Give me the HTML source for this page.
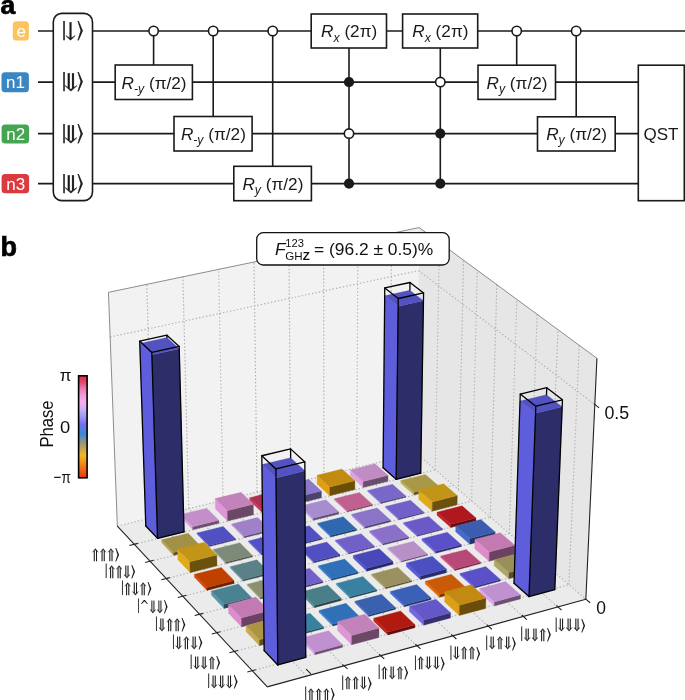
<!DOCTYPE html><html><head><meta charset="utf-8"><style>html,body{margin:0;padding:0;background:#fff;}svg{display:block}</style></head><body>
<svg width="685" height="700" viewBox="0 0 685 700">
<rect width="685" height="700" fill="#fff"/>
<g stroke="#1a1a1a" stroke-width="1.6" fill="none">
<line x1="38" y1="31.0" x2="685" y2="31.0"/>
<line x1="38" y1="82.1" x2="638.3" y2="82.1"/>
<line x1="38" y1="133.6" x2="638.3" y2="133.6"/>
<line x1="38" y1="183.6" x2="638.3" y2="183.6"/>
</g>
<rect x="12.8" y="21.2" width="16.1" height="19.4" rx="3.5" fill="#fcc45f"/>
<text x="21.2" y="36.9" font-family="'Liberation Sans', Arial, sans-serif" font-size="17" fill="#fff" text-anchor="middle">e</text>
<rect x="1.5" y="72.3" width="27.4" height="20.0" rx="3.5" fill="#3a86c2"/>
<text x="15.5" y="88.3" font-family="'Liberation Sans', Arial, sans-serif" font-size="17" fill="#fff" text-anchor="middle">n1</text>
<rect x="1.6" y="124.4" width="27.5" height="19.0" rx="3.5" fill="#45a550"/>
<text x="15.7" y="139.9" font-family="'Liberation Sans', Arial, sans-serif" font-size="17" fill="#fff" text-anchor="middle">n2</text>
<rect x="1.6" y="173.9" width="27.5" height="19.4" rx="3.5" fill="#da3b40"/>
<text x="15.7" y="189.6" font-family="'Liberation Sans', Arial, sans-serif" font-size="17" fill="#fff" text-anchor="middle">n3</text>
<rect x="53.3" y="13.4" width="39.2" height="187.2" rx="8.5" fill="#fff" stroke="#1a1a1a" stroke-width="1.6"/>
<text x="61.4" y="37.2" font-family="'DejaVu Math TeX Gyre', 'DejaVu Sans', sans-serif" font-size="22.7" fill="#1a1a1a" stroke="#1a1a1a" stroke-width="0.25" textLength="5.08" lengthAdjust="spacingAndGlyphs">|</text>
<text x="64.33" y="37.1" font-family="'DejaVu Math TeX Gyre', 'DejaVu Sans', sans-serif" font-size="21.5" fill="#1a1a1a" stroke="#1a1a1a" stroke-width="0.25" textLength="12.58" lengthAdjust="spacingAndGlyphs">↓</text>
<text x="76.85" y="37.2" font-family="'DejaVu Math TeX Gyre', 'DejaVu Sans', sans-serif" font-size="22.7" fill="#1a1a1a" stroke="#1a1a1a" stroke-width="0.3" textLength="7.40" lengthAdjust="spacingAndGlyphs">⟩</text>
<text x="61.4" y="88.3" font-family="'DejaVu Math TeX Gyre', 'DejaVu Sans', sans-serif" font-size="22.7" fill="#1a1a1a" stroke="#1a1a1a" stroke-width="0.25" textLength="5.08" lengthAdjust="spacingAndGlyphs">|</text>
<text x="63.31" y="88.2" font-family="'DejaVu Math TeX Gyre', 'DejaVu Sans', sans-serif" font-size="21.5" fill="#1a1a1a" stroke="#1a1a1a" stroke-width="0.25" textLength="15.33" lengthAdjust="spacingAndGlyphs">⇓</text>
<text x="76.85" y="88.3" font-family="'DejaVu Math TeX Gyre', 'DejaVu Sans', sans-serif" font-size="22.7" fill="#1a1a1a" stroke="#1a1a1a" stroke-width="0.3" textLength="7.40" lengthAdjust="spacingAndGlyphs">⟩</text>
<text x="61.4" y="139.8" font-family="'DejaVu Math TeX Gyre', 'DejaVu Sans', sans-serif" font-size="22.7" fill="#1a1a1a" stroke="#1a1a1a" stroke-width="0.25" textLength="5.08" lengthAdjust="spacingAndGlyphs">|</text>
<text x="63.31" y="139.7" font-family="'DejaVu Math TeX Gyre', 'DejaVu Sans', sans-serif" font-size="21.5" fill="#1a1a1a" stroke="#1a1a1a" stroke-width="0.25" textLength="15.33" lengthAdjust="spacingAndGlyphs">⇓</text>
<text x="76.85" y="139.8" font-family="'DejaVu Math TeX Gyre', 'DejaVu Sans', sans-serif" font-size="22.7" fill="#1a1a1a" stroke="#1a1a1a" stroke-width="0.3" textLength="7.40" lengthAdjust="spacingAndGlyphs">⟩</text>
<text x="61.4" y="189.8" font-family="'DejaVu Math TeX Gyre', 'DejaVu Sans', sans-serif" font-size="22.7" fill="#1a1a1a" stroke="#1a1a1a" stroke-width="0.25" textLength="5.08" lengthAdjust="spacingAndGlyphs">|</text>
<text x="63.31" y="189.7" font-family="'DejaVu Math TeX Gyre', 'DejaVu Sans', sans-serif" font-size="21.5" fill="#1a1a1a" stroke="#1a1a1a" stroke-width="0.25" textLength="15.33" lengthAdjust="spacingAndGlyphs">⇓</text>
<text x="76.85" y="189.8" font-family="'DejaVu Math TeX Gyre', 'DejaVu Sans', sans-serif" font-size="22.7" fill="#1a1a1a" stroke="#1a1a1a" stroke-width="0.3" textLength="7.40" lengthAdjust="spacingAndGlyphs">⟩</text>
<line x1="153.6" y1="31.0" x2="153.6" y2="65" stroke="#1a1a1a" stroke-width="1.6"/>
<line x1="213.2" y1="31.0" x2="213.2" y2="116.5" stroke="#1a1a1a" stroke-width="1.6"/>
<line x1="272.7" y1="31.0" x2="272.7" y2="166.3" stroke="#1a1a1a" stroke-width="1.6"/>
<line x1="516.7" y1="31.0" x2="516.7" y2="65.2" stroke="#1a1a1a" stroke-width="1.6"/>
<line x1="576.2" y1="31.0" x2="576.2" y2="116.8" stroke="#1a1a1a" stroke-width="1.6"/>
<line x1="349.0" y1="48" x2="349.0" y2="183.6" stroke="#1a1a1a" stroke-width="1.6"/>
<line x1="440.3" y1="48" x2="440.3" y2="183.6" stroke="#1a1a1a" stroke-width="1.6"/>
<rect x="115.2" y="65.0" width="77.2" height="34.5" fill="#fff" stroke="#1a1a1a" stroke-width="1.6"/>
<text x="154.1" y="88.5" font-family="'Liberation Sans', Arial, sans-serif" font-size="17.2" fill="#1a1a1a" text-anchor="middle"><tspan font-style="italic">R</tspan><tspan font-style="italic" font-size="12.2" dy="4.2">-y</tspan><tspan dy="-4.2"> (π/2)</tspan></text>
<rect x="174.0" y="116.5" width="78.1" height="34.5" fill="#fff" stroke="#1a1a1a" stroke-width="1.6"/>
<text x="213.4" y="140.1" font-family="'Liberation Sans', Arial, sans-serif" font-size="17.2" fill="#1a1a1a" text-anchor="middle"><tspan font-style="italic">R</tspan><tspan font-style="italic" font-size="12.2" dy="4.2">-y</tspan><tspan dy="-4.2"> (π/2)</tspan></text>
<rect x="233.8" y="166.3" width="77.6" height="34.4" fill="#fff" stroke="#1a1a1a" stroke-width="1.6"/>
<text x="272.9" y="189.8" font-family="'Liberation Sans', Arial, sans-serif" font-size="17.2" fill="#1a1a1a" text-anchor="middle"><tspan font-style="italic">R</tspan><tspan font-style="italic" font-size="12.2" dy="4.2">y</tspan><tspan dy="-4.2"> (π/2)</tspan></text>
<rect x="311.2" y="14.0" width="75.3" height="34.0" fill="#fff" stroke="#1a1a1a" stroke-width="1.6"/>
<text x="349.2" y="37.3" font-family="'Liberation Sans', Arial, sans-serif" font-size="17.2" fill="#1a1a1a" text-anchor="middle"><tspan font-style="italic">R</tspan><tspan font-style="italic" font-size="12.2" dy="4.2">x</tspan><tspan dy="-4.2"> (2π)</tspan></text>
<rect x="402.6" y="14.0" width="75.1" height="34.0" fill="#fff" stroke="#1a1a1a" stroke-width="1.6"/>
<text x="440.4" y="37.3" font-family="'Liberation Sans', Arial, sans-serif" font-size="17.2" fill="#1a1a1a" text-anchor="middle"><tspan font-style="italic">R</tspan><tspan font-style="italic" font-size="12.2" dy="4.2">x</tspan><tspan dy="-4.2"> (2π)</tspan></text>
<rect x="478.0" y="65.2" width="77.5" height="34.2" fill="#fff" stroke="#1a1a1a" stroke-width="1.6"/>
<text x="517.0" y="88.6" font-family="'Liberation Sans', Arial, sans-serif" font-size="17.2" fill="#1a1a1a" text-anchor="middle"><tspan font-style="italic">R</tspan><tspan font-style="italic" font-size="12.2" dy="4.2">y</tspan><tspan dy="-4.2"> (π/2)</tspan></text>
<rect x="537.5" y="116.8" width="77.7" height="34.2" fill="#fff" stroke="#1a1a1a" stroke-width="1.6"/>
<text x="576.6" y="140.2" font-family="'Liberation Sans', Arial, sans-serif" font-size="17.2" fill="#1a1a1a" text-anchor="middle"><tspan font-style="italic">R</tspan><tspan font-style="italic" font-size="12.2" dy="4.2">y</tspan><tspan dy="-4.2"> (π/2)</tspan></text>
<circle cx="153.6" cy="31.0" r="4.7" fill="#fff" stroke="#1a1a1a" stroke-width="1.6"/>
<circle cx="213.2" cy="31.0" r="4.7" fill="#fff" stroke="#1a1a1a" stroke-width="1.6"/>
<circle cx="272.7" cy="31.0" r="4.7" fill="#fff" stroke="#1a1a1a" stroke-width="1.6"/>
<circle cx="516.7" cy="31.0" r="4.7" fill="#fff" stroke="#1a1a1a" stroke-width="1.6"/>
<circle cx="576.2" cy="31.0" r="4.7" fill="#fff" stroke="#1a1a1a" stroke-width="1.6"/>
<circle cx="349.0" cy="82.1" r="5.1" fill="#1a1a1a" stroke="#1a1a1a" stroke-width="0"/>
<circle cx="349.0" cy="133.6" r="4.7" fill="#fff" stroke="#1a1a1a" stroke-width="1.6"/>
<circle cx="349.0" cy="183.6" r="5.1" fill="#1a1a1a" stroke="#1a1a1a" stroke-width="0"/>
<circle cx="440.3" cy="82.1" r="4.7" fill="#fff" stroke="#1a1a1a" stroke-width="1.6"/>
<circle cx="440.3" cy="133.6" r="5.1" fill="#1a1a1a" stroke="#1a1a1a" stroke-width="0"/>
<circle cx="440.3" cy="183.6" r="5.1" fill="#1a1a1a" stroke="#1a1a1a" stroke-width="0"/>
<rect x="638.3" y="65.2" width="46" height="135.5" fill="#fff" stroke="#1a1a1a" stroke-width="1.6"/>
<text x="661" y="139.5" font-family="'Liberation Sans', Arial, sans-serif" font-size="17" fill="#1a1a1a" text-anchor="middle">QST</text>
<text x="0.4" y="14.2" font-family="'Liberation Sans', Arial, sans-serif" font-size="26.5" font-weight="bold" fill="#000" stroke="#000" stroke-width="0.7">a</text>
<text x="0.6" y="255.5" font-family="'Liberation Sans', Arial, sans-serif" font-size="27" font-weight="bold" fill="#000" stroke="#000" stroke-width="0.7">b</text>
<polygon points="117.33,526.10 415.85,453.17 419.22,227.57 108.45,292.33" fill="#f2f2f2" stroke="none"/>
<polygon points="585.85,599.23 415.85,453.17 419.22,227.57 596.94,358.31" fill="#e6e6e6" stroke="none"/>
<polygon points="267.31,686.87 585.85,599.23 415.85,453.17 117.33,526.10" fill="#ebebeb" stroke="none"/>
<line x1="306.62" y1="676.05" x2="154.03" y2="517.13" stroke="#b0b0b0" stroke-width="1.15" stroke-dasharray="1.4,2.1" fill="none"/>
<line x1="154.03" y1="517.13" x2="146.72" y2="284.35" stroke="#b0b0b0" stroke-width="1.15" stroke-dasharray="1.4,2.1" fill="none"/>
<line x1="343.76" y1="665.84" x2="188.73" y2="508.65" stroke="#b0b0b0" stroke-width="1.15" stroke-dasharray="1.4,2.1" fill="none"/>
<line x1="188.73" y1="508.65" x2="182.89" y2="276.82" stroke="#b0b0b0" stroke-width="1.15" stroke-dasharray="1.4,2.1" fill="none"/>
<line x1="380.46" y1="655.74" x2="223.06" y2="500.27" stroke="#b0b0b0" stroke-width="1.15" stroke-dasharray="1.4,2.1" fill="none"/>
<line x1="223.06" y1="500.27" x2="218.66" y2="269.36" stroke="#b0b0b0" stroke-width="1.15" stroke-dasharray="1.4,2.1" fill="none"/>
<line x1="416.73" y1="645.76" x2="257.03" y2="491.97" stroke="#b0b0b0" stroke-width="1.15" stroke-dasharray="1.4,2.1" fill="none"/>
<line x1="257.03" y1="491.97" x2="254.03" y2="261.99" stroke="#b0b0b0" stroke-width="1.15" stroke-dasharray="1.4,2.1" fill="none"/>
<line x1="452.59" y1="635.89" x2="290.65" y2="483.75" stroke="#b0b0b0" stroke-width="1.15" stroke-dasharray="1.4,2.1" fill="none"/>
<line x1="290.65" y1="483.75" x2="289.02" y2="254.70" stroke="#b0b0b0" stroke-width="1.15" stroke-dasharray="1.4,2.1" fill="none"/>
<line x1="488.05" y1="626.14" x2="323.91" y2="475.63" stroke="#b0b0b0" stroke-width="1.15" stroke-dasharray="1.4,2.1" fill="none"/>
<line x1="323.91" y1="475.63" x2="323.64" y2="247.49" stroke="#b0b0b0" stroke-width="1.15" stroke-dasharray="1.4,2.1" fill="none"/>
<line x1="523.10" y1="616.49" x2="356.83" y2="467.59" stroke="#b0b0b0" stroke-width="1.15" stroke-dasharray="1.4,2.1" fill="none"/>
<line x1="356.83" y1="467.59" x2="357.87" y2="240.36" stroke="#b0b0b0" stroke-width="1.15" stroke-dasharray="1.4,2.1" fill="none"/>
<line x1="557.75" y1="606.96" x2="389.41" y2="459.63" stroke="#b0b0b0" stroke-width="1.15" stroke-dasharray="1.4,2.1" fill="none"/>
<line x1="389.41" y1="459.63" x2="391.74" y2="233.30" stroke="#b0b0b0" stroke-width="1.15" stroke-dasharray="1.4,2.1" fill="none"/>
<line x1="134.38" y1="544.37" x2="435.24" y2="469.83" stroke="#b0b0b0" stroke-width="1.15" stroke-dasharray="1.4,2.1" fill="none"/>
<line x1="435.24" y1="469.83" x2="439.43" y2="242.44" stroke="#b0b0b0" stroke-width="1.15" stroke-dasharray="1.4,2.1" fill="none"/>
<line x1="150.20" y1="561.33" x2="453.23" y2="485.29" stroke="#b0b0b0" stroke-width="1.15" stroke-dasharray="1.4,2.1" fill="none"/>
<line x1="458.37" y1="489.70" x2="463.55" y2="260.18" stroke="#b0b0b0" stroke-width="1.15" stroke-dasharray="1.4,2.1" fill="none"/>
<line x1="166.35" y1="578.64" x2="471.57" y2="501.05" stroke="#b0b0b0" stroke-width="1.15" stroke-dasharray="1.4,2.1" fill="none"/>
<line x1="471.57" y1="501.05" x2="477.33" y2="270.32" stroke="#b0b0b0" stroke-width="1.15" stroke-dasharray="1.4,2.1" fill="none"/>
<line x1="182.83" y1="596.31" x2="490.28" y2="517.11" stroke="#b0b0b0" stroke-width="1.15" stroke-dasharray="1.4,2.1" fill="none"/>
<line x1="490.28" y1="517.11" x2="496.87" y2="284.69" stroke="#b0b0b0" stroke-width="1.15" stroke-dasharray="1.4,2.1" fill="none"/>
<line x1="199.66" y1="614.35" x2="509.35" y2="533.50" stroke="#b0b0b0" stroke-width="1.15" stroke-dasharray="1.4,2.1" fill="none"/>
<line x1="509.35" y1="533.50" x2="516.81" y2="299.36" stroke="#b0b0b0" stroke-width="1.15" stroke-dasharray="1.4,2.1" fill="none"/>
<line x1="216.84" y1="632.77" x2="528.80" y2="550.22" stroke="#b0b0b0" stroke-width="1.15" stroke-dasharray="1.4,2.1" fill="none"/>
<line x1="528.80" y1="550.22" x2="537.16" y2="314.33" stroke="#b0b0b0" stroke-width="1.15" stroke-dasharray="1.4,2.1" fill="none"/>
<line x1="234.39" y1="651.58" x2="548.65" y2="567.27" stroke="#b0b0b0" stroke-width="1.15" stroke-dasharray="1.4,2.1" fill="none"/>
<line x1="548.65" y1="567.27" x2="557.94" y2="329.62" stroke="#b0b0b0" stroke-width="1.15" stroke-dasharray="1.4,2.1" fill="none"/>
<line x1="252.31" y1="670.79" x2="568.91" y2="584.67" stroke="#b0b0b0" stroke-width="1.15" stroke-dasharray="1.4,2.1" fill="none"/>
<line x1="568.91" y1="584.67" x2="579.17" y2="345.24" stroke="#b0b0b0" stroke-width="1.15" stroke-dasharray="1.4,2.1" fill="none"/>
<line x1="117.33" y1="526.10" x2="415.85" y2="453.17" stroke="#b0b0b0" stroke-width="1.15" stroke-dasharray="1.4,2.1" fill="none"/>
<line x1="415.85" y1="453.17" x2="585.85" y2="599.23" stroke="#b0b0b0" stroke-width="1.15" stroke-dasharray="1.4,2.1" fill="none"/>
<line x1="110.15" y1="337.03" x2="418.58" y2="270.65" stroke="#b0b0b0" stroke-width="1.15" stroke-dasharray="1.4,2.1" fill="none"/>
<line x1="418.58" y1="270.65" x2="594.81" y2="404.44" stroke="#b0b0b0" stroke-width="1.15" stroke-dasharray="1.4,2.1" fill="none"/>
<line x1="117.33" y1="526.10" x2="108.45" y2="292.33" stroke="#808080" stroke-width="0.9"/>
<line x1="108.45" y1="292.33" x2="419.22" y2="227.57" stroke="#808080" stroke-width="0.9"/>
<line x1="419.22" y1="227.57" x2="596.94" y2="358.31" stroke="#808080" stroke-width="0.9"/>
<line x1="267.31" y1="686.87" x2="117.33" y2="526.10" stroke="#222" stroke-width="1.1"/>
<line x1="267.31" y1="686.87" x2="585.85" y2="599.23" stroke="#222" stroke-width="1.1"/>
<line x1="585.85" y1="599.23" x2="596.94" y2="358.31" stroke="#222" stroke-width="1.1"/>
<line x1="129.38" y1="545.57" x2="137.88" y2="543.37" stroke="#222" stroke-width="1.1"/>
<line x1="145.20" y1="562.53" x2="153.70" y2="560.33" stroke="#222" stroke-width="1.1"/>
<line x1="161.35" y1="579.84" x2="169.85" y2="577.64" stroke="#222" stroke-width="1.1"/>
<line x1="177.83" y1="597.51" x2="186.33" y2="595.31" stroke="#222" stroke-width="1.1"/>
<line x1="194.66" y1="615.55" x2="203.16" y2="613.35" stroke="#222" stroke-width="1.1"/>
<line x1="211.84" y1="633.97" x2="220.34" y2="631.77" stroke="#222" stroke-width="1.1"/>
<line x1="229.39" y1="652.78" x2="237.89" y2="650.58" stroke="#222" stroke-width="1.1"/>
<line x1="247.31" y1="671.99" x2="255.81" y2="669.79" stroke="#222" stroke-width="1.1"/>
<line x1="306.1" y1="669.2" x2="310.9" y2="673.9" stroke="#222" stroke-width="1.1"/>
<line x1="342.36" y1="664.34" x2="347.56" y2="668.94" stroke="#222" stroke-width="1.1"/>
<line x1="379.06" y1="654.24" x2="384.26" y2="658.84" stroke="#222" stroke-width="1.1"/>
<line x1="415.33" y1="644.26" x2="420.53" y2="648.86" stroke="#222" stroke-width="1.1"/>
<line x1="451.19" y1="634.39" x2="456.39" y2="638.99" stroke="#222" stroke-width="1.1"/>
<line x1="486.65" y1="624.64" x2="491.85" y2="629.24" stroke="#222" stroke-width="1.1"/>
<line x1="521.70" y1="614.99" x2="526.90" y2="619.59" stroke="#222" stroke-width="1.1"/>
<line x1="556.35" y1="605.46" x2="561.55" y2="610.06" stroke="#222" stroke-width="1.1"/>
<line x1="584.85" y1="598.43" x2="590.15" y2="602.73" stroke="#222" stroke-width="1.1"/>
<line x1="593.81" y1="403.64" x2="599.11" y2="407.94" stroke="#222" stroke-width="1.1"/>
<polygon points="396.15,479.30 383.10,467.78 384.69,295.74 398.14,306.33" fill="#5e5edd" stroke="#5e5edd" stroke-width="0.3"/>
<polygon points="396.15,479.30 420.72,473.21 423.46,300.76 398.14,306.33" fill="#2d2d6a" stroke="#2d2d6a" stroke-width="0.3"/>
<polygon points="398.14,306.33 423.46,300.76 409.87,290.25 384.69,295.74" fill="#5252c0" stroke="#5252c0" stroke-width="0.3"/>
<polygon points="398.23,298.50 423.58,292.95 409.98,282.49 384.76,287.96" fill="none" stroke="#000" stroke-width="1.3" stroke-linejoin="round"/>
<line x1="409.87" y1="290.25" x2="409.98" y2="282.49" stroke="#000" stroke-width="1.3" stroke-linecap="round"/>
<line x1="396.15" y1="479.30" x2="398.23" y2="298.50" stroke="#000" stroke-width="1.3" stroke-linecap="round"/>
<line x1="420.72" y1="473.21" x2="423.58" y2="292.95" stroke="#000" stroke-width="1.3" stroke-linecap="round"/>
<line x1="383.10" y1="467.78" x2="384.76" y2="287.96" stroke="#000" stroke-width="1.3" stroke-linecap="round"/>
<line x1="383.10" y1="467.78" x2="396.15" y2="479.30" stroke="#000" stroke-width="1.3" stroke-linecap="round"/>
<line x1="396.15" y1="479.30" x2="420.72" y2="473.21" stroke="#000" stroke-width="1.3" stroke-linecap="round"/>
<polygon points="363.14,487.47 350.27,475.84 350.29,469.89 363.17,481.49" fill="#dda1e1" stroke="#dda1e1" stroke-width="0.3"/>
<polygon points="363.14,487.47 387.97,481.32 388.03,475.35 363.17,481.49" fill="#6a4d6c" stroke="#6a4d6c" stroke-width="0.3"/>
<polygon points="363.17,481.49 388.03,475.35 375.02,463.84 350.29,469.89" fill="#c08cc4" stroke="#c08cc4" stroke-width="0.3"/>
<polygon points="414.01,495.07 400.72,483.33 400.75,480.52 414.05,492.24" fill="#c1af53" stroke="#c1af53" stroke-width="0.3"/>
<polygon points="414.01,495.07 438.76,488.86 438.81,486.04 414.05,492.24" fill="#5c5428" stroke="#5c5428" stroke-width="0.3"/>
<polygon points="414.05,492.24 438.81,486.04 425.38,474.41 400.75,480.52" fill="#a89848" stroke="#a89848" stroke-width="0.3"/>
<polygon points="329.78,495.74 317.08,483.98 317.06,475.19 329.78,486.90" fill="#df9f12" stroke="#df9f12" stroke-width="0.3"/>
<polygon points="329.78,495.74 354.88,489.52 354.91,480.70 329.78,486.90" fill="#6b4c09" stroke="#6b4c09" stroke-width="0.3"/>
<polygon points="329.78,486.90 354.91,480.70 342.06,469.09 317.06,475.19" fill="#c28a10" stroke="#c28a10" stroke-width="0.3"/>
<polygon points="380.78,503.41 367.65,491.55 367.66,490.49 380.78,502.35" fill="#8c78e6" stroke="#8c78e6" stroke-width="0.3"/>
<polygon points="380.78,503.41 405.78,497.13 405.80,496.07 380.78,502.35" fill="#43396e" stroke="#43396e" stroke-width="0.3"/>
<polygon points="380.78,502.35 405.80,496.07 392.54,484.31 367.66,490.49" fill="#7a68c8" stroke="#7a68c8" stroke-width="0.3"/>
<polygon points="296.07,504.09 283.55,492.21 283.49,485.50 296.03,497.34" fill="#9f8ae6" stroke="#9f8ae6" stroke-width="0.3"/>
<polygon points="296.07,504.09 321.43,497.80 321.42,491.08 296.03,497.34" fill="#4c426e" stroke="#4c426e" stroke-width="0.3"/>
<polygon points="296.03,497.34 321.42,491.08 308.75,479.33 283.49,485.50" fill="#8a78c8" stroke="#8a78c8" stroke-width="0.3"/>
<polygon points="432.23,511.15 418.67,499.18 418.81,489.97 432.40,501.90" fill="#dfaa1c" stroke="#dfaa1c" stroke-width="0.3"/>
<polygon points="432.23,511.15 457.15,504.82 457.35,495.59 432.40,501.90" fill="#6b510d" stroke="#6b510d" stroke-width="0.3"/>
<polygon points="432.40,501.90 457.35,495.59 443.64,483.76 418.81,489.97" fill="#c29418" stroke="#c29418" stroke-width="0.3"/>
<polygon points="347.18,511.84 334.23,499.85 334.23,498.79 347.19,510.77" fill="#dd6ea6" stroke="#dd6ea6" stroke-width="0.3"/>
<polygon points="347.18,511.84 372.46,505.50 372.46,504.43 347.19,510.77" fill="#6a354f" stroke="#6a354f" stroke-width="0.3"/>
<polygon points="347.19,510.77 372.46,504.43 359.38,492.55 334.23,498.79" fill="#c06090" stroke="#c06090" stroke-width="0.3"/>
<polygon points="262.00,512.53 249.66,500.53 249.62,497.69 261.96,509.68" fill="#c6375c" stroke="#c6375c" stroke-width="0.3"/>
<polygon points="262.00,512.53 287.63,506.18 287.61,503.34 261.96,509.68" fill="#5f1a2c" stroke="#5f1a2c" stroke-width="0.3"/>
<polygon points="261.96,509.68 287.61,503.34 275.12,491.45 249.62,497.69" fill="#ac3050" stroke="#ac3050" stroke-width="0.3"/>
<polygon points="398.76,519.66 385.37,507.56 385.38,506.50 398.78,518.59" fill="#816ee6" stroke="#816ee6" stroke-width="0.3"/>
<polygon points="398.76,519.66 423.94,513.26 423.96,512.19 398.78,518.59" fill="#3e356e" stroke="#3e356e" stroke-width="0.3"/>
<polygon points="398.78,518.59 423.96,512.19 410.44,500.19 385.38,506.50" fill="#7060c8" stroke="#7060c8" stroke-width="0.3"/>
<polygon points="227.56,521.06 215.40,508.93 215.19,498.61 227.37,510.68" fill="#df96d6" stroke="#df96d6" stroke-width="0.3"/>
<polygon points="227.56,521.06 253.47,514.64 253.33,504.29 227.37,510.68" fill="#6b4866" stroke="#6b4866" stroke-width="0.3"/>
<polygon points="227.37,510.68 253.33,504.29 241.01,492.32 215.19,498.61" fill="#c282ba" stroke="#c282ba" stroke-width="0.3"/>
<polygon points="313.23,520.36 300.46,508.25 300.45,506.12 313.22,518.22" fill="#c1a1ef" stroke="#c1a1ef" stroke-width="0.3"/>
<polygon points="313.23,520.36 338.77,513.95 338.78,511.81 313.22,518.22" fill="#5c4d72" stroke="#5c4d72" stroke-width="0.3"/>
<polygon points="313.22,518.22 338.78,511.81 325.86,499.81 300.45,506.12" fill="#a88cd0" stroke="#a88cd0" stroke-width="0.3"/>
<polygon points="450.82,527.55 436.98,515.34 437.04,512.14 450.88,524.33" fill="#ca1c25" stroke="#ca1c25" stroke-width="0.3"/>
<polygon points="450.82,527.55 475.90,521.09 475.98,517.88 450.88,524.33" fill="#610d12" stroke="#610d12" stroke-width="0.3"/>
<polygon points="450.88,524.33 475.98,517.88 462.02,505.78 437.04,512.14" fill="#b01820" stroke="#b01820" stroke-width="0.3"/>
<polygon points="192.75,529.68 180.78,517.43 180.71,514.57 192.68,526.81" fill="#e1a3e6" stroke="#e1a3e6" stroke-width="0.3"/>
<polygon points="192.75,529.68 218.94,523.19 218.88,520.33 192.68,526.81" fill="#6c4e6e" stroke="#6c4e6e" stroke-width="0.3"/>
<polygon points="192.68,526.81 218.88,520.33 206.77,508.19 180.71,514.57" fill="#c48ec8" stroke="#c48ec8" stroke-width="0.3"/>
<polygon points="364.93,528.26 351.72,516.04 351.73,514.26 364.94,526.47" fill="#9f85e6" stroke="#9f85e6" stroke-width="0.3"/>
<polygon points="364.93,528.26 390.38,521.79 390.40,520.00 364.94,526.47" fill="#4c406e" stroke="#4c406e" stroke-width="0.3"/>
<polygon points="364.94,526.47 390.40,520.00 377.05,507.89 351.73,514.26" fill="#8a74c8" stroke="#8a74c8" stroke-width="0.3"/>
<polygon points="278.91,528.97 266.32,516.73 266.30,515.31 278.90,527.54" fill="#a693e6" stroke="#a693e6" stroke-width="0.3"/>
<polygon points="278.91,528.97 304.73,522.49 304.72,521.06 278.90,527.54" fill="#4f466e" stroke="#4f466e" stroke-width="0.3"/>
<polygon points="278.90,527.54 304.72,521.06 291.99,508.93 266.30,515.31" fill="#9080c8" stroke="#9080c8" stroke-width="0.3"/>
<polygon points="157.56,538.40 145.79,526.01 139.78,343.39 151.88,354.77" fill="#5e5edd" stroke="#5e5edd" stroke-width="0.3"/>
<polygon points="157.56,538.40 184.03,531.84 179.24,348.77 151.88,354.77" fill="#2d2d6a" stroke="#2d2d6a" stroke-width="0.3"/>
<polygon points="151.88,354.77 179.24,348.77 166.98,337.48 139.78,343.39" fill="#5252c0" stroke="#5252c0" stroke-width="0.3"/>
<polygon points="151.81,352.46 179.18,346.47 166.91,335.19 139.70,341.09" fill="none" stroke="#000" stroke-width="1.3" stroke-linejoin="round"/>
<line x1="166.98" y1="337.48" x2="166.91" y2="335.19" stroke="#000" stroke-width="1.3" stroke-linecap="round"/>
<line x1="157.56" y1="538.40" x2="151.81" y2="352.46" stroke="#000" stroke-width="1.3" stroke-linecap="round"/>
<line x1="184.03" y1="531.84" x2="179.18" y2="346.47" stroke="#000" stroke-width="1.3" stroke-linecap="round"/>
<line x1="145.79" y1="526.01" x2="139.70" y2="341.09" stroke="#000" stroke-width="1.3" stroke-linecap="round"/>
<line x1="145.79" y1="526.01" x2="157.56" y2="538.40" stroke="#000" stroke-width="1.3" stroke-linecap="round"/>
<line x1="157.56" y1="538.40" x2="184.03" y2="531.84" stroke="#000" stroke-width="1.3" stroke-linecap="round"/>
<polygon points="417.11,536.24 403.45,523.90 403.47,522.83 417.13,535.16" fill="#7a67e6" stroke="#7a67e6" stroke-width="0.3"/>
<polygon points="417.11,536.24 442.47,529.70 442.49,528.63 417.13,535.16" fill="#3a326e" stroke="#3a326e" stroke-width="0.3"/>
<polygon points="417.13,535.16 442.49,528.63 428.70,516.39 403.47,522.83" fill="#6a5ac8" stroke="#6a5ac8" stroke-width="0.3"/>
<polygon points="244.22,537.68 231.82,525.31 231.79,523.88 244.19,536.24" fill="#b893e6" stroke="#b893e6" stroke-width="0.3"/>
<polygon points="244.22,537.68 270.32,531.13 270.30,529.69 244.19,536.24" fill="#58466e" stroke="#58466e" stroke-width="0.3"/>
<polygon points="244.19,536.24 270.30,529.69 257.76,517.43 231.79,523.88" fill="#a080c8" stroke="#a080c8" stroke-width="0.3"/>
<polygon points="330.73,536.96 317.70,524.60 317.70,523.17 330.73,535.52" fill="#3678ca" stroke="#3678ca" stroke-width="0.3"/>
<polygon points="330.73,536.96 356.46,530.42 356.47,528.98 330.73,535.52" fill="#1a3961" stroke="#1a3961" stroke-width="0.3"/>
<polygon points="330.73,535.52 356.47,528.98 343.30,516.73 317.70,523.17" fill="#2f68b0" stroke="#2f68b0" stroke-width="0.3"/>
<polygon points="469.77,544.29 455.66,531.83 455.79,526.09 469.92,538.52" fill="#456aca" stroke="#456aca" stroke-width="0.3"/>
<polygon points="469.77,544.29 495.03,537.69 495.20,531.94 469.92,538.52" fill="#213361" stroke="#213361" stroke-width="0.3"/>
<polygon points="469.92,538.52 495.20,531.94 480.94,519.61 455.79,526.09" fill="#3c5cb0" stroke="#3c5cb0" stroke-width="0.3"/>
<polygon points="383.04,545.02 369.56,532.54 369.57,531.11 383.05,543.57" fill="#9f81e6" stroke="#9f81e6" stroke-width="0.3"/>
<polygon points="383.04,545.02 408.67,538.41 408.69,536.97 383.05,543.57" fill="#4c3e6e" stroke="#4c3e6e" stroke-width="0.3"/>
<polygon points="383.05,543.57 408.69,536.97 395.08,524.61 369.57,531.11" fill="#8a70c8" stroke="#8a70c8" stroke-width="0.3"/>
<polygon points="209.14,546.48 196.94,533.98 196.91,532.90 209.12,545.39" fill="#5c5cdd" stroke="#5c5cdd" stroke-width="0.3"/>
<polygon points="209.14,546.48 235.53,539.86 235.51,538.78 209.12,545.39" fill="#2c2c6a" stroke="#2c2c6a" stroke-width="0.3"/>
<polygon points="209.12,545.39 235.51,538.78 223.16,526.38 196.91,532.90" fill="#5050c0" stroke="#5050c0" stroke-width="0.3"/>
<polygon points="296.16,545.75 283.32,533.26 283.31,532.18 296.16,544.66" fill="#5c5cdd" stroke="#5c5cdd" stroke-width="0.3"/>
<polygon points="296.16,545.75 322.17,539.13 322.17,538.05 296.16,544.66" fill="#2c2c6a" stroke="#2c2c6a" stroke-width="0.3"/>
<polygon points="296.16,544.66 322.17,538.05 309.18,525.67 283.31,532.18" fill="#5050c0" stroke="#5050c0" stroke-width="0.3"/>
<polygon points="435.83,553.15 421.90,540.56 421.92,538.76 435.86,551.34" fill="#675ce6" stroke="#675ce6" stroke-width="0.3"/>
<polygon points="435.83,553.15 461.37,546.48 461.41,544.68 435.86,551.34" fill="#322c6e" stroke="#322c6e" stroke-width="0.3"/>
<polygon points="435.86,551.34 461.41,544.68 447.34,532.20 421.92,538.76" fill="#5a50c8" stroke="#5a50c8" stroke-width="0.3"/>
<polygon points="173.69,555.38 161.68,542.74 161.59,539.85 173.61,552.47" fill="#b8a653" stroke="#b8a653" stroke-width="0.3"/>
<polygon points="173.69,555.38 200.36,548.68 200.30,545.79 173.61,552.47" fill="#584f28" stroke="#584f28" stroke-width="0.3"/>
<polygon points="173.61,552.47 200.30,545.79 188.13,533.27 161.59,539.85" fill="#a09048" stroke="#a09048" stroke-width="0.3"/>
<polygon points="348.59,553.89 335.30,541.29 335.30,540.21 348.60,552.81" fill="#816ee6" stroke="#816ee6" stroke-width="0.3"/>
<polygon points="348.59,553.89 374.51,547.21 374.52,546.13 348.60,552.81" fill="#3e356e" stroke="#3e356e" stroke-width="0.3"/>
<polygon points="348.60,552.81 374.52,546.13 361.08,533.63 335.30,540.21" fill="#7060c8" stroke="#7060c8" stroke-width="0.3"/>
<polygon points="261.21,554.63 248.56,542.01 248.54,540.93 261.20,553.55" fill="#5c5ce6" stroke="#5c5ce6" stroke-width="0.3"/>
<polygon points="261.21,554.63 287.51,547.95 287.50,546.86 261.20,553.55" fill="#2c2c6e" stroke="#2c2c6e" stroke-width="0.3"/>
<polygon points="261.20,553.55 287.50,546.86 274.70,534.35 248.54,540.93" fill="#5050c8" stroke="#5050c8" stroke-width="0.3"/>
<polygon points="489.12,561.36 474.72,548.65 474.96,539.25 489.38,551.91" fill="#df8cca" stroke="#df8cca" stroke-width="0.3"/>
<polygon points="489.12,561.36 514.55,554.63 514.86,545.21 489.38,551.91" fill="#6b4361" stroke="#6b4361" stroke-width="0.3"/>
<polygon points="489.38,551.91 514.86,545.21 500.31,532.65 474.96,539.25" fill="#c27ab0" stroke="#c27ab0" stroke-width="0.3"/>
<polygon points="401.51,562.11 387.76,549.39 387.78,547.94 401.53,560.66" fill="#d4a6e6" stroke="#d4a6e6" stroke-width="0.3"/>
<polygon points="401.51,562.11 427.33,555.37 427.36,553.92 401.53,560.66" fill="#654f6e" stroke="#654f6e" stroke-width="0.3"/>
<polygon points="401.53,560.66 427.36,553.92 413.46,541.31 387.78,547.94" fill="#b890c8" stroke="#b890c8" stroke-width="0.3"/>
<polygon points="225.88,563.62 213.42,550.86 213.39,549.41 225.85,562.16" fill="#919f8a" stroke="#919f8a" stroke-width="0.3"/>
<polygon points="225.88,563.62 252.46,556.86 252.44,555.41 225.85,562.16" fill="#454c42" stroke="#454c42" stroke-width="0.3"/>
<polygon points="225.85,562.16 252.44,555.41 239.83,542.76 213.39,549.41" fill="#7e8a78" stroke="#7e8a78" stroke-width="0.3"/>
<polygon points="313.77,562.86 300.66,550.12 300.65,548.68 313.76,561.41" fill="#5c5cdd" stroke="#5c5cdd" stroke-width="0.3"/>
<polygon points="313.77,562.86 339.97,556.11 339.97,554.66 313.76,561.41" fill="#2c2c6a" stroke="#2c2c6a" stroke-width="0.3"/>
<polygon points="313.76,561.41 339.97,554.66 326.72,542.03 300.65,548.68" fill="#5050c0" stroke="#5050c0" stroke-width="0.3"/>
<polygon points="454.93,570.41 440.71,557.56 440.74,556.11 454.97,568.95" fill="#d4538a" stroke="#d4538a" stroke-width="0.3"/>
<polygon points="454.93,570.41 480.65,563.60 480.69,562.15 454.97,568.95" fill="#652842" stroke="#652842" stroke-width="0.3"/>
<polygon points="454.97,568.95 480.69,562.15 466.33,549.41 440.74,556.11" fill="#b84878" stroke="#b84878" stroke-width="0.3"/>
<polygon points="190.15,572.70 177.90,559.80 177.60,548.89 189.87,561.73" fill="#dfaa1c" stroke="#dfaa1c" stroke-width="0.3"/>
<polygon points="190.15,572.70 217.03,565.87 216.81,554.93 189.87,561.73" fill="#6b510d" stroke="#6b510d" stroke-width="0.3"/>
<polygon points="189.87,561.73 216.81,554.93 204.38,542.19 177.60,548.89" fill="#c29418" stroke="#c29418" stroke-width="0.3"/>
<polygon points="366.82,571.17 353.25,558.31 353.26,555.41 366.84,568.26" fill="#5353d4" stroke="#5353d4" stroke-width="0.3"/>
<polygon points="366.82,571.17 392.92,564.36 392.95,561.45 366.84,568.26" fill="#282865" stroke="#282865" stroke-width="0.3"/>
<polygon points="366.84,568.26 392.95,561.45 379.24,548.70 353.26,555.41" fill="#4848b8" stroke="#4848b8" stroke-width="0.3"/>
<polygon points="278.56,571.94 265.64,559.06 265.63,557.60 278.54,570.48" fill="#9fa681" stroke="#9fa681" stroke-width="0.3"/>
<polygon points="278.56,571.94 305.05,565.11 305.04,563.66 278.54,570.48" fill="#4c4f3e" stroke="#4c4f3e" stroke-width="0.3"/>
<polygon points="278.54,570.48 305.04,563.66 291.98,550.89 265.63,557.60" fill="#8a9070" stroke="#8a9070" stroke-width="0.3"/>
<polygon points="508.86,578.79 494.16,565.82 494.34,559.63 509.06,572.57" fill="#afa665" stroke="#afa665" stroke-width="0.3"/>
<polygon points="508.86,578.79 534.47,571.91 534.70,565.71 509.06,572.57" fill="#544f30" stroke="#544f30" stroke-width="0.3"/>
<polygon points="509.06,572.57 534.70,565.71 519.85,552.88 494.34,559.63" fill="#989058" stroke="#989058" stroke-width="0.3"/>
<polygon points="420.37,579.56 406.33,566.57 406.38,562.93 420.43,575.90" fill="#555cdd" stroke="#555cdd" stroke-width="0.3"/>
<polygon points="420.37,579.56 446.37,572.68 446.45,569.03 420.43,575.90" fill="#292c6a" stroke="#292c6a" stroke-width="0.3"/>
<polygon points="420.43,575.90 446.45,569.03 432.26,556.16 406.38,562.93" fill="#4a50c0" stroke="#4a50c0" stroke-width="0.3"/>
<polygon points="242.95,581.11 230.24,568.09 230.21,566.63 242.93,579.64" fill="#67939c" stroke="#67939c" stroke-width="0.3"/>
<polygon points="242.95,581.11 269.74,574.21 269.72,572.75 242.93,579.64" fill="#32464b" stroke="#32464b" stroke-width="0.3"/>
<polygon points="242.93,579.64 269.72,572.75 256.86,559.84 230.21,566.63" fill="#5a8088" stroke="#5a8088" stroke-width="0.3"/>
<polygon points="331.73,580.33 318.36,567.33 318.36,565.87 331.73,578.87" fill="#3681d4" stroke="#3681d4" stroke-width="0.3"/>
<polygon points="331.73,580.33 358.13,573.44 358.14,571.98 331.73,578.87" fill="#1a3e65" stroke="#1a3e65" stroke-width="0.3"/>
<polygon points="331.73,578.87 358.14,571.98 344.61,559.09 318.36,565.87" fill="#2f70b8" stroke="#2f70b8" stroke-width="0.3"/>
<polygon points="474.43,588.03 459.92,574.91 459.95,573.45 474.47,586.56" fill="#675ce6" stroke="#675ce6" stroke-width="0.3"/>
<polygon points="474.43,588.03 500.33,581.08 500.38,579.61 474.47,586.56" fill="#322c6e" stroke="#322c6e" stroke-width="0.3"/>
<polygon points="474.47,586.56 500.38,579.61 485.72,566.61 459.95,573.45" fill="#5a50c8" stroke="#5a50c8" stroke-width="0.3"/>
<polygon points="385.42,588.81 371.57,575.68 371.58,574.22 385.43,587.34" fill="#b1a66e" stroke="#b1a66e" stroke-width="0.3"/>
<polygon points="385.42,588.81 411.71,581.85 411.74,580.39 385.43,587.34" fill="#554f35" stroke="#554f35" stroke-width="0.3"/>
<polygon points="385.43,587.34 411.74,580.39 397.74,567.37 371.58,574.22" fill="#9a9060" stroke="#9a9060" stroke-width="0.3"/>
<polygon points="206.95,590.39 194.44,577.22 194.37,574.29 206.88,587.44" fill="#dd4a00" stroke="#dd4a00" stroke-width="0.3"/>
<polygon points="206.95,590.39 234.04,583.41 233.99,580.47 206.88,587.44" fill="#6a2300" stroke="#6a2300" stroke-width="0.3"/>
<polygon points="206.88,587.44 233.99,580.47 221.32,567.43 194.37,574.29" fill="#c04000" stroke="#c04000" stroke-width="0.3"/>
<polygon points="296.26,589.60 283.08,576.45 283.07,574.99 296.25,588.13" fill="#816ee6" stroke="#816ee6" stroke-width="0.3"/>
<polygon points="296.26,589.60 322.95,582.63 322.95,581.16 296.25,588.13" fill="#3e356e" stroke="#3e356e" stroke-width="0.3"/>
<polygon points="296.25,588.13 322.95,581.16 309.62,568.13 283.07,574.99" fill="#7060c8" stroke="#7060c8" stroke-width="0.3"/>
<polygon points="529.01,596.58 514.01,583.33 520.02,401.06 535.56,413.29" fill="#5e5edd" stroke="#5e5edd" stroke-width="0.3"/>
<polygon points="529.01,596.58 554.80,589.56 562.18,406.83 535.56,413.29" fill="#2d2d6a" stroke="#2d2d6a" stroke-width="0.3"/>
<polygon points="535.56,413.29 562.18,406.83 546.49,394.71 520.02,401.06" fill="#5252c0" stroke="#5252c0" stroke-width="0.3"/>
<polygon points="535.81,406.21 562.46,399.78 546.75,387.69 520.25,394.02" fill="none" stroke="#000" stroke-width="1.3" stroke-linejoin="round"/>
<line x1="546.49" y1="394.71" x2="546.75" y2="387.69" stroke="#000" stroke-width="1.3" stroke-linecap="round"/>
<line x1="529.01" y1="596.58" x2="535.81" y2="406.21" stroke="#000" stroke-width="1.3" stroke-linecap="round"/>
<line x1="554.80" y1="589.56" x2="562.46" y2="399.78" stroke="#000" stroke-width="1.3" stroke-linecap="round"/>
<line x1="514.01" y1="583.33" x2="520.25" y2="394.02" stroke="#000" stroke-width="1.3" stroke-linecap="round"/>
<line x1="514.01" y1="583.33" x2="529.01" y2="596.58" stroke="#000" stroke-width="1.3" stroke-linecap="round"/>
<line x1="529.01" y1="596.58" x2="554.80" y2="589.56" stroke="#000" stroke-width="1.3" stroke-linecap="round"/>
<polygon points="439.62,597.37 425.29,584.11 425.34,581.18 439.67,594.42" fill="#e66709" stroke="#e66709" stroke-width="0.3"/>
<polygon points="439.62,597.37 465.81,590.34 465.88,587.40 439.67,594.42" fill="#6e3204" stroke="#6e3204" stroke-width="0.3"/>
<polygon points="439.67,594.42 465.88,587.40 451.40,574.27 425.34,581.18" fill="#c85a08" stroke="#c85a08" stroke-width="0.3"/>
<polygon points="350.08,598.17 336.42,584.89 336.42,583.43 350.08,596.69" fill="#4393b8" stroke="#4393b8" stroke-width="0.3"/>
<polygon points="350.08,598.17 376.67,591.13 376.68,589.66 350.08,596.69" fill="#204658" stroke="#204658" stroke-width="0.3"/>
<polygon points="350.08,596.69 376.68,589.66 362.88,576.50 336.42,583.43" fill="#3a80a0" stroke="#3a80a0" stroke-width="0.3"/>
<polygon points="260.38,598.97 247.41,585.67 247.39,584.21 260.37,597.49" fill="#9fa681" stroke="#9fa681" stroke-width="0.3"/>
<polygon points="260.38,598.97 287.38,591.92 287.36,590.45 260.37,597.49" fill="#4c4f3e" stroke="#4c4f3e" stroke-width="0.3"/>
<polygon points="260.37,597.49 287.36,590.45 274.23,577.27 247.39,584.21" fill="#8a9070" stroke="#8a9070" stroke-width="0.3"/>
<polygon points="494.34,606.01 479.52,592.62 479.63,588.58 494.46,601.95" fill="#dda6ef" stroke="#dda6ef" stroke-width="0.3"/>
<polygon points="494.34,606.01 520.42,598.91 520.56,594.86 494.46,601.95" fill="#6a4f72" stroke="#6a4f72" stroke-width="0.3"/>
<polygon points="494.46,601.95 520.56,594.86 505.59,581.60 479.63,588.58" fill="#c090d0" stroke="#c090d0" stroke-width="0.3"/>
<polygon points="404.41,606.82 390.27,593.42 390.29,591.58 404.43,604.97" fill="#436ed4" stroke="#436ed4" stroke-width="0.3"/>
<polygon points="404.41,606.82 430.90,599.71 430.93,597.87 404.43,604.97" fill="#203565" stroke="#203565" stroke-width="0.3"/>
<polygon points="404.43,604.97 430.93,597.87 416.65,584.58 390.29,591.58" fill="#3a60b8" stroke="#3a60b8" stroke-width="0.3"/>
<polygon points="224.10,608.44 211.33,595.00 211.25,590.95 224.02,604.36" fill="#5596a8" stroke="#5596a8" stroke-width="0.3"/>
<polygon points="224.10,608.44 251.40,601.31 251.34,597.25 224.02,604.36" fill="#294850" stroke="#294850" stroke-width="0.3"/>
<polygon points="224.02,604.36 251.34,597.25 238.41,583.94 211.25,590.95" fill="#4a8292" stroke="#4a8292" stroke-width="0.3"/>
<polygon points="314.33,607.63 300.88,594.21 300.87,592.00 314.33,605.41" fill="#55919c" stroke="#55919c" stroke-width="0.3"/>
<polygon points="314.33,607.63 341.23,600.51 341.23,598.30 314.33,605.41" fill="#29454b" stroke="#29454b" stroke-width="0.3"/>
<polygon points="314.33,605.41 341.23,598.30 327.62,585.00 300.87,592.00" fill="#4a7e88" stroke="#4a7e88" stroke-width="0.3"/>
<polygon points="459.27,615.56 444.64,602.02 444.85,591.67 459.51,605.15" fill="#df9f15" stroke="#df9f15" stroke-width="0.3"/>
<polygon points="459.27,615.56 485.65,608.38 485.94,598.00 459.51,605.15" fill="#6b4c0a" stroke="#6b4c0a" stroke-width="0.3"/>
<polygon points="459.51,605.15 485.94,598.00 471.14,584.63 444.85,591.67" fill="#c28a12" stroke="#c28a12" stroke-width="0.3"/>
<polygon points="368.80,616.38 354.86,602.82 354.87,601.34 368.81,614.89" fill="#436eca" stroke="#436eca" stroke-width="0.3"/>
<polygon points="368.80,616.38 395.59,609.19 395.61,607.71 368.81,614.89" fill="#203561" stroke="#203561" stroke-width="0.3"/>
<polygon points="368.81,614.89 395.61,607.71 381.52,594.27 354.87,601.34" fill="#3a60b0" stroke="#3a60b0" stroke-width="0.3"/>
<polygon points="278.18,617.20 264.93,603.63 264.92,602.15 278.17,615.71" fill="#5c9fa6" stroke="#5c9fa6" stroke-width="0.3"/>
<polygon points="278.18,617.20 305.38,610.00 305.38,608.52 278.17,615.71" fill="#2c4c4f" stroke="#2c4c4f" stroke-width="0.3"/>
<polygon points="278.17,615.71 305.38,608.52 291.97,595.07 264.92,602.15" fill="#508a90" stroke="#508a90" stroke-width="0.3"/>
<polygon points="423.80,625.21 409.37,611.52 409.44,606.33 423.89,619.99" fill="#7365e6" stroke="#7365e6" stroke-width="0.3"/>
<polygon points="423.80,625.21 450.49,617.95 450.60,612.74 423.89,619.99" fill="#37306e" stroke="#37306e" stroke-width="0.3"/>
<polygon points="423.89,619.99 450.60,612.74 436.00,599.20 409.44,606.33" fill="#6458c8" stroke="#6458c8" stroke-width="0.3"/>
<polygon points="241.62,626.88 228.58,613.15 228.41,604.23 241.48,617.91" fill="#df8ccd" stroke="#df8ccd" stroke-width="0.3"/>
<polygon points="241.62,626.88 269.13,619.60 269.03,610.66 241.48,617.91" fill="#6b4362" stroke="#6b4362" stroke-width="0.3"/>
<polygon points="241.48,617.91 269.03,610.66 255.81,597.09 228.41,604.23" fill="#c27ab2" stroke="#c27ab2" stroke-width="0.3"/>
<polygon points="332.79,626.04 319.05,612.34 319.05,610.48 332.79,624.18" fill="#3781d4" stroke="#3781d4" stroke-width="0.3"/>
<polygon points="332.79,626.04 359.89,618.77 359.90,616.91 332.79,624.18" fill="#1a3e65" stroke="#1a3e65" stroke-width="0.3"/>
<polygon points="332.79,624.18 359.90,616.91 346.00,603.33 319.05,610.48" fill="#3070b8" stroke="#3070b8" stroke-width="0.3"/>
<polygon points="387.93,634.97 373.69,621.13 373.71,618.15 387.96,631.98" fill="#ca1e12" stroke="#ca1e12" stroke-width="0.3"/>
<polygon points="387.93,634.97 414.92,627.63 414.97,624.64 387.96,631.98" fill="#610e09" stroke="#610e09" stroke-width="0.3"/>
<polygon points="387.96,631.98 414.97,624.64 400.57,610.93 373.71,618.15" fill="#b01a10" stroke="#b01a10" stroke-width="0.3"/>
<polygon points="296.36,635.82 282.83,621.96 282.82,620.47 296.35,634.32" fill="#4393b8" stroke="#4393b8" stroke-width="0.3"/>
<polygon points="296.36,635.82 323.77,628.47 323.77,626.97 296.35,634.32" fill="#204658" stroke="#204658" stroke-width="0.3"/>
<polygon points="296.35,634.32 323.77,626.97 310.08,613.23 282.82,620.47" fill="#3a80a0" stroke="#3a80a0" stroke-width="0.3"/>
<polygon points="351.64,644.85 337.61,630.85 337.62,621.50 351.68,635.45" fill="#df96d6" stroke="#df96d6" stroke-width="0.3"/>
<polygon points="351.64,644.85 378.94,637.42 379.03,628.05 351.68,635.45" fill="#6b4866" stroke="#6b4866" stroke-width="0.3"/>
<polygon points="351.68,635.45 379.03,628.05 364.81,614.21 337.62,621.50" fill="#c282ba" stroke="#c282ba" stroke-width="0.3"/>
<polygon points="259.51,645.71 246.19,631.69 246.10,625.71 259.43,639.69" fill="#c6aa4e" stroke="#c6aa4e" stroke-width="0.3"/>
<polygon points="259.51,645.71 287.24,638.27 287.19,632.27 259.43,639.69" fill="#5f5125" stroke="#5f5125" stroke-width="0.3"/>
<polygon points="259.43,639.69 287.19,632.27 273.70,618.40 246.10,625.71" fill="#ac9444" stroke="#ac9444" stroke-width="0.3"/>
<polygon points="314.93,654.84 301.11,640.68 301.09,638.06 314.92,652.20" fill="#dda6ef" stroke="#dda6ef" stroke-width="0.3"/>
<polygon points="314.93,654.84 342.55,647.33 342.56,644.69 314.92,652.20" fill="#6a4f72" stroke="#6a4f72" stroke-width="0.3"/>
<polygon points="314.92,652.20 342.56,644.69 328.57,630.67 301.09,638.06" fill="#c090d0" stroke="#c090d0" stroke-width="0.3"/>
<polygon points="277.79,664.95 264.18,650.63 261.93,464.61 275.98,477.88" fill="#5e5edd" stroke="#5e5edd" stroke-width="0.3"/>
<polygon points="277.79,664.95 305.74,657.35 304.88,470.86 275.98,477.88" fill="#2d2d6a" stroke="#2d2d6a" stroke-width="0.3"/>
<polygon points="275.98,477.88 304.88,470.86 290.66,457.71 261.93,464.61" fill="#5252c0" stroke="#5252c0" stroke-width="0.3"/>
<polygon points="275.89,468.97 304.84,461.98 290.59,448.88 261.82,455.75" fill="none" stroke="#000" stroke-width="1.3" stroke-linejoin="round"/>
<line x1="290.66" y1="457.71" x2="290.59" y2="448.88" stroke="#000" stroke-width="1.3" stroke-linecap="round"/>
<line x1="277.79" y1="664.95" x2="275.89" y2="468.97" stroke="#000" stroke-width="1.3" stroke-linecap="round"/>
<line x1="305.74" y1="657.35" x2="304.84" y2="461.98" stroke="#000" stroke-width="1.3" stroke-linecap="round"/>
<line x1="264.18" y1="650.63" x2="261.82" y2="455.75" stroke="#000" stroke-width="1.3" stroke-linecap="round"/>
<line x1="264.18" y1="650.63" x2="277.79" y2="664.95" stroke="#000" stroke-width="1.3" stroke-linecap="round"/>
<line x1="277.79" y1="664.95" x2="305.74" y2="657.35" stroke="#000" stroke-width="1.3" stroke-linecap="round"/>
<defs><linearGradient id="cb" x1="0" y1="0" x2="0" y2="1"><stop offset="0" stop-color="#e8283c"/><stop offset="0.06" stop-color="#e04868"/><stop offset="0.12" stop-color="#e878b0"/><stop offset="0.20" stop-color="#f4a0dc"/><stop offset="0.265" stop-color="#f8b0f0"/><stop offset="0.33" stop-color="#c8b0f8"/><stop offset="0.40" stop-color="#a098f4"/><stop offset="0.48" stop-color="#7070f0"/><stop offset="0.57" stop-color="#3c8ad8"/><stop offset="0.67" stop-color="#a09870"/><stop offset="0.78" stop-color="#f0b828"/><stop offset="0.88" stop-color="#f08018"/><stop offset="1" stop-color="#e83818"/></linearGradient></defs>
<rect x="78.6" y="375.8" width="8.5" height="102.0" fill="url(#cb)" stroke="#000" stroke-width="1.6"/>
<text x="71.6" y="381" font-family="'Liberation Sans', Arial, sans-serif" font-size="17" fill="#111" text-anchor="end">π</text>
<text x="60.0" y="432.6" font-family="'Liberation Sans', Arial, sans-serif" font-size="16" fill="#111" textLength="10.2" lengthAdjust="spacingAndGlyphs">0</text>
<text x="53.6" y="483.3" font-family="'Liberation Sans', Arial, sans-serif" font-size="17" fill="#111" textLength="17.2" lengthAdjust="spacingAndGlyphs">−π</text>
<text transform="translate(52.6,424.0) rotate(-90)" font-family="'Liberation Sans', Arial, sans-serif" font-size="18.6" fill="#111" text-anchor="middle" textLength="47.2" lengthAdjust="spacingAndGlyphs">Phase</text>
<rect x="256.7" y="232.7" width="192.5" height="32.3" rx="6.5" fill="#fff" stroke="#111" stroke-width="1.3"/>
<text x="275" y="255.4" font-family="'Liberation Sans', Arial, sans-serif" font-size="17.3" fill="#111"><tspan font-style="italic">F</tspan></text>
<text x="285.2" y="246.6" font-family="'Liberation Sans', Arial, sans-serif" font-size="11.2" fill="#111">123</text>
<text x="285.3" y="260.3" font-family="'Liberation Sans', Arial, sans-serif" font-size="11.6" fill="#111">GH<tspan font-weight="bold">Z</tspan></text>
<text x="314" y="255.4" font-family="'Liberation Sans', Arial, sans-serif" font-size="17.3" fill="#111" textLength="119.3" lengthAdjust="spacingAndGlyphs">= (96.2 ± 0.5)%</text>
<text x="120.0" y="559.1" font-family="'DejaVu Math TeX Gyre', 'DejaVu Sans', sans-serif" font-size="16" fill="#111" stroke="#111" stroke-width="0.12" text-anchor="end" textLength="28.5" lengthAdjust="spacingAndGlyphs"><tspan font-size="15" dy="-0.4">⇑⇑⇑</tspan><tspan dy="0.4">⟩</tspan></text>
<text x="136.1" y="575.9" font-family="'DejaVu Math TeX Gyre', 'DejaVu Sans', sans-serif" font-size="16" fill="#111" stroke="#111" stroke-width="0.12" text-anchor="end" textLength="31.3" lengthAdjust="spacingAndGlyphs"><tspan>|</tspan><tspan font-size="15" dy="-0.4">⇑⇑⇓</tspan><tspan dy="0.4">⟩</tspan></text>
<text x="152.2" y="593.4" font-family="'DejaVu Math TeX Gyre', 'DejaVu Sans', sans-serif" font-size="16" fill="#111" stroke="#111" stroke-width="0.12" text-anchor="end" textLength="31.3" lengthAdjust="spacingAndGlyphs"><tspan>|</tspan><tspan font-size="15" dy="-0.4">⇑⇓⇑</tspan><tspan dy="0.4">⟩</tspan></text>
<text x="168.5" y="610.9" font-family="'DejaVu Math TeX Gyre', 'DejaVu Sans', sans-serif" font-size="16" fill="#111" stroke="#111" stroke-width="0.12" text-anchor="end" textLength="31.3" lengthAdjust="spacingAndGlyphs"><tspan>|</tspan><tspan font-size="15" dy="-0.4">^⇓⇓</tspan><tspan dy="0.4">⟩</tspan></text>
<text x="186.4" y="629.0" font-family="'DejaVu Math TeX Gyre', 'DejaVu Sans', sans-serif" font-size="16" fill="#111" stroke="#111" stroke-width="0.12" text-anchor="end" textLength="31.3" lengthAdjust="spacingAndGlyphs"><tspan>|</tspan><tspan font-size="15" dy="-0.4">⇓⇑⇑</tspan><tspan dy="0.4">⟩</tspan></text>
<text x="203.2" y="647.4" font-family="'DejaVu Math TeX Gyre', 'DejaVu Sans', sans-serif" font-size="16" fill="#111" stroke="#111" stroke-width="0.12" text-anchor="end" textLength="31.3" lengthAdjust="spacingAndGlyphs"><tspan>|</tspan><tspan font-size="15" dy="-0.4">⇓⇑⇓</tspan><tspan dy="0.4">⟩</tspan></text>
<text x="221.1" y="667.1" font-family="'DejaVu Math TeX Gyre', 'DejaVu Sans', sans-serif" font-size="16" fill="#111" stroke="#111" stroke-width="0.12" text-anchor="end" textLength="31.3" lengthAdjust="spacingAndGlyphs"><tspan>|</tspan><tspan font-size="15" dy="-0.4">⇓⇓⇑</tspan><tspan dy="0.4">⟩</tspan></text>
<text x="238.6" y="686.4" font-family="'DejaVu Math TeX Gyre', 'DejaVu Sans', sans-serif" font-size="16" fill="#111" stroke="#111" stroke-width="0.12" text-anchor="end" textLength="31.3" lengthAdjust="spacingAndGlyphs"><tspan>|</tspan><tspan font-size="15" dy="-0.4">⇓⇓⇓</tspan><tspan dy="0.4">⟩</tspan></text>
<text x="304.2" y="699.1" font-family="'DejaVu Math TeX Gyre', 'DejaVu Sans', sans-serif" font-size="16" fill="#111" stroke="#111" stroke-width="0.12" textLength="31.5" lengthAdjust="spacingAndGlyphs"><tspan>|</tspan><tspan font-size="15" dy="-0.4">⇑⇑⇑</tspan><tspan dy="0.4">⟩</tspan></text>
<text x="341.2" y="687.7" font-family="'DejaVu Math TeX Gyre', 'DejaVu Sans', sans-serif" font-size="16" fill="#111" stroke="#111" stroke-width="0.12" textLength="31.5" lengthAdjust="spacingAndGlyphs"><tspan>|</tspan><tspan font-size="15" dy="-0.4">⇑⇑⇓</tspan><tspan dy="0.4">⟩</tspan></text>
<text x="377.7" y="677.2" font-family="'DejaVu Math TeX Gyre', 'DejaVu Sans', sans-serif" font-size="16" fill="#111" stroke="#111" stroke-width="0.12" textLength="31.5" lengthAdjust="spacingAndGlyphs"><tspan>|</tspan><tspan font-size="15" dy="-0.4">⇑⇓⇑</tspan><tspan dy="0.4">⟩</tspan></text>
<text x="414.0" y="667.7" font-family="'DejaVu Math TeX Gyre', 'DejaVu Sans', sans-serif" font-size="16" fill="#111" stroke="#111" stroke-width="0.12" textLength="31.5" lengthAdjust="spacingAndGlyphs"><tspan>|</tspan><tspan font-size="15" dy="-0.4">⇑⇓⇓</tspan><tspan dy="0.4">⟩</tspan></text>
<text x="449.6" y="657.5" font-family="'DejaVu Math TeX Gyre', 'DejaVu Sans', sans-serif" font-size="16" fill="#111" stroke="#111" stroke-width="0.12" textLength="31.5" lengthAdjust="spacingAndGlyphs"><tspan>|</tspan><tspan font-size="15" dy="-0.4">⇓⇑⇑</tspan><tspan dy="0.4">⟩</tspan></text>
<text x="485.3" y="647.8" font-family="'DejaVu Math TeX Gyre', 'DejaVu Sans', sans-serif" font-size="16" fill="#111" stroke="#111" stroke-width="0.12" textLength="31.5" lengthAdjust="spacingAndGlyphs"><tspan>|</tspan><tspan font-size="15" dy="-0.4">⇓⇑⇓</tspan><tspan dy="0.4">⟩</tspan></text>
<text x="520.3" y="639.1" font-family="'DejaVu Math TeX Gyre', 'DejaVu Sans', sans-serif" font-size="16" fill="#111" stroke="#111" stroke-width="0.12" textLength="31.5" lengthAdjust="spacingAndGlyphs"><tspan>|</tspan><tspan font-size="15" dy="-0.4">⇓⇓⇑</tspan><tspan dy="0.4">⟩</tspan></text>
<text x="554.7" y="629.7" font-family="'DejaVu Math TeX Gyre', 'DejaVu Sans', sans-serif" font-size="16" fill="#111" stroke="#111" stroke-width="0.12" textLength="31.5" lengthAdjust="spacingAndGlyphs"><tspan>|</tspan><tspan font-size="15" dy="-0.4">⇓⇓⇓</tspan><tspan dy="0.4">⟩</tspan></text>
<text x="604.4" y="419.0" font-family="'Liberation Sans', Arial, sans-serif" font-size="17.8" fill="#111">0.5</text>
<text x="596.3" y="613.9" font-family="'Liberation Sans', Arial, sans-serif" font-size="17.5" fill="#111">0</text>
</svg></body></html>
